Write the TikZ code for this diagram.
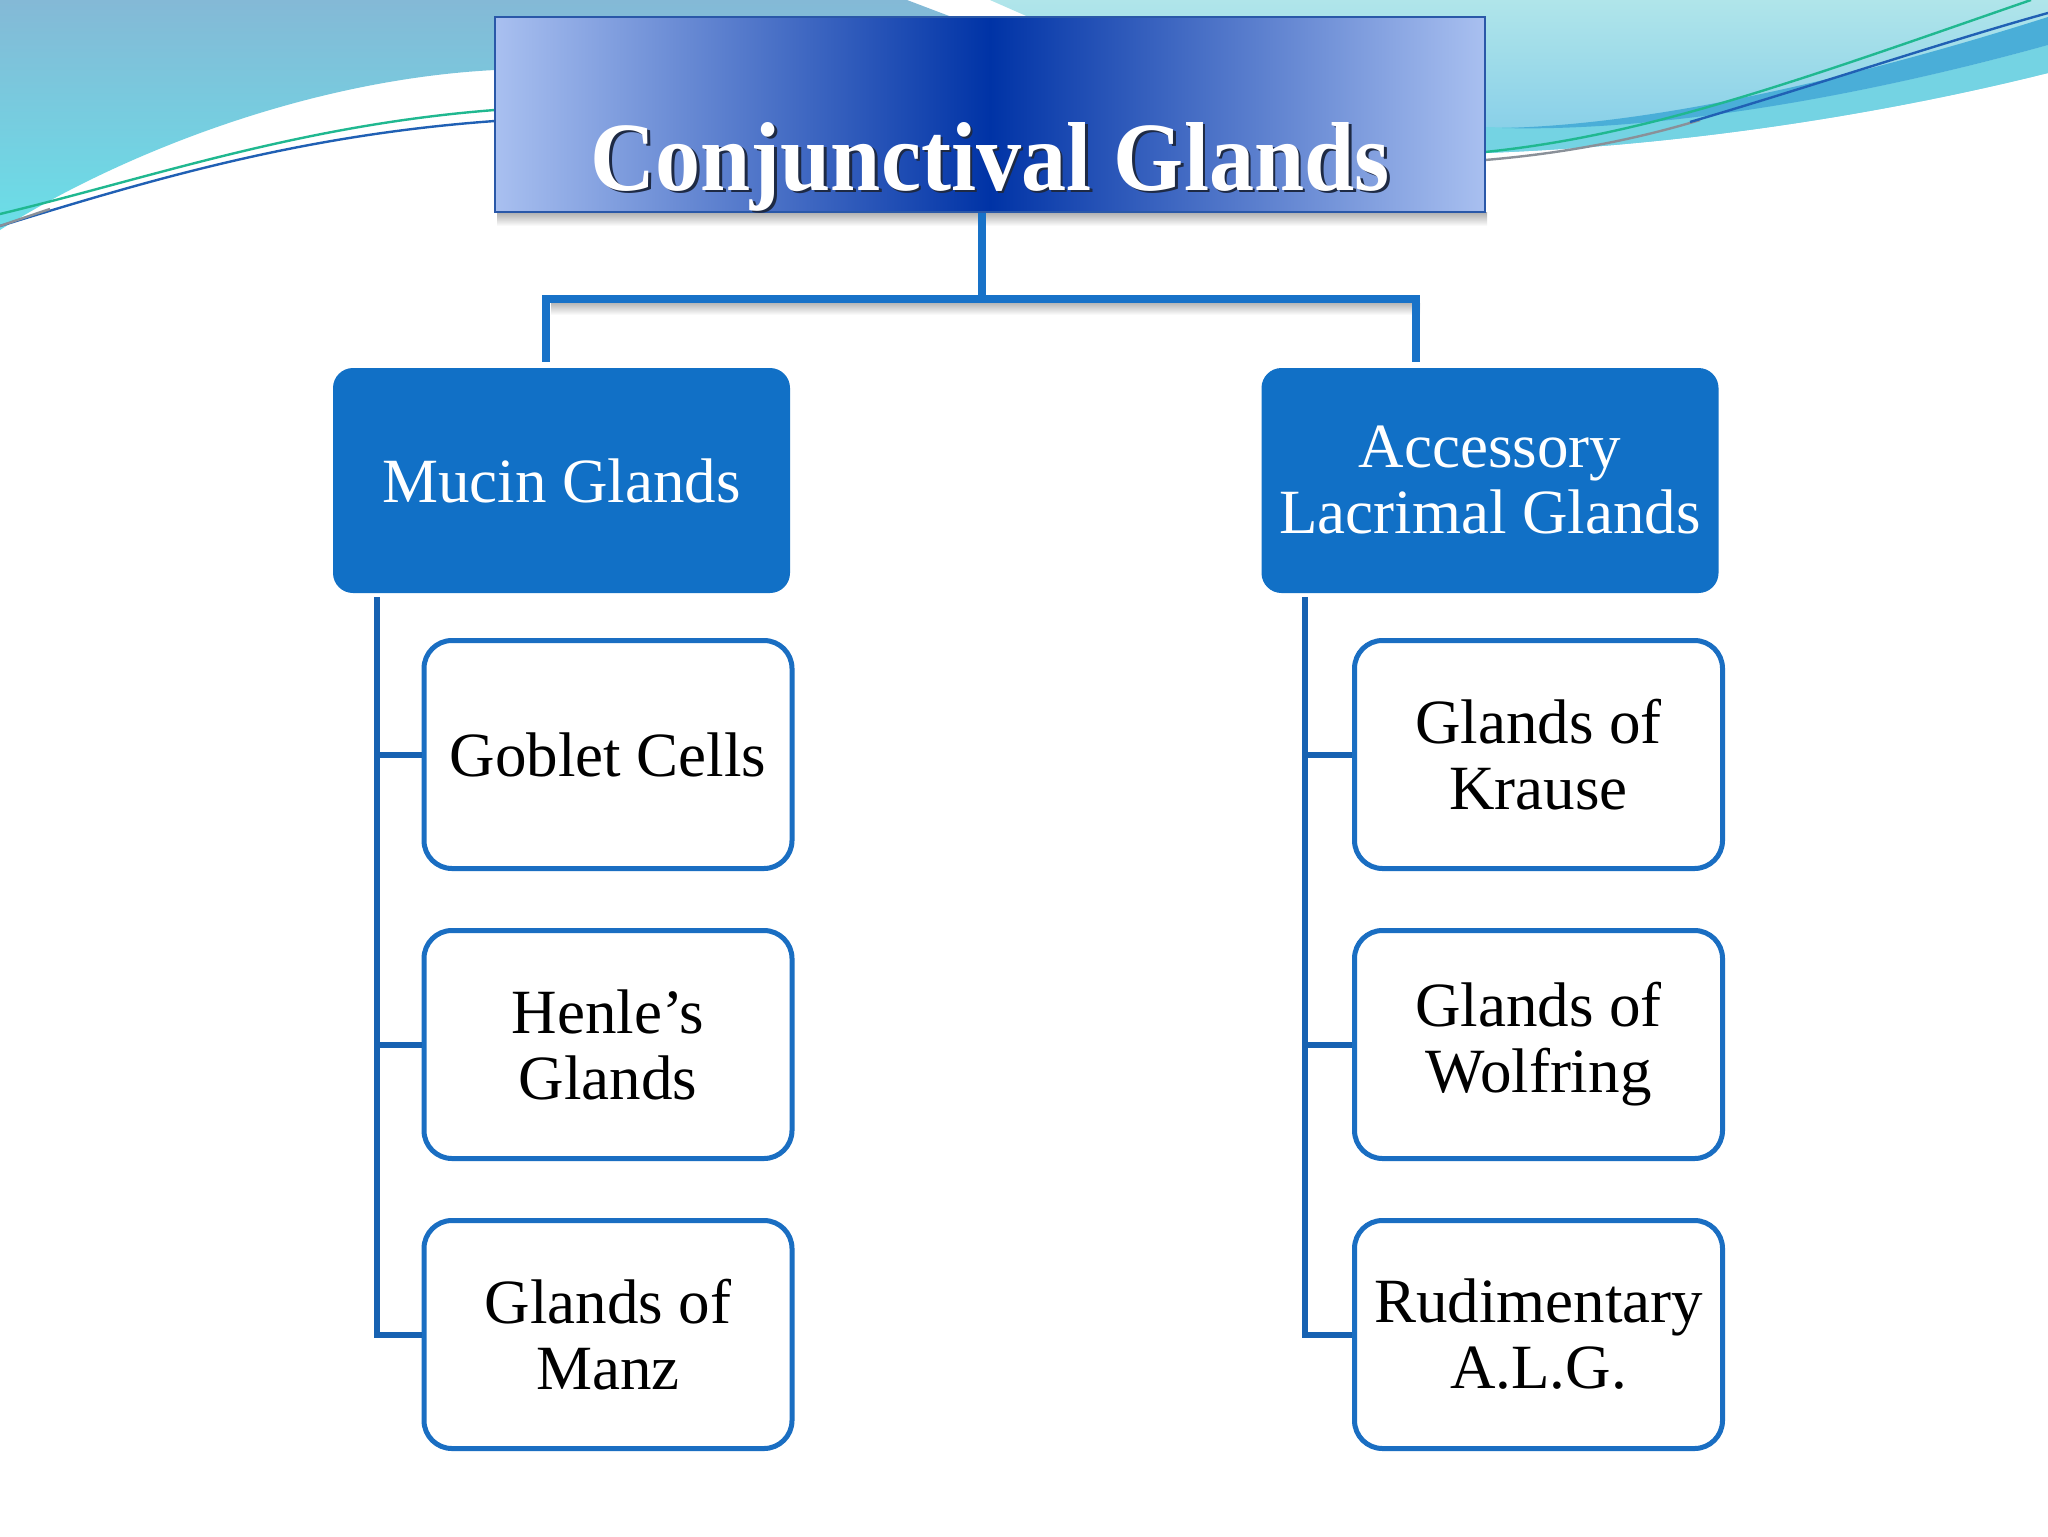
\documentclass[tikz,border=0pt]{standalone}
\usepackage{fontspec}
\setmainfont{Liberation Serif}
\usetikzlibrary{calc}
\definecolor{headblue}{HTML}{1170C6}
\definecolor{boxblue}{HTML}{1A6EC2}
\definecolor{lineblue}{HTML}{1762B2}
\definecolor{topline}{HTML}{1872C8}
\definecolor{tlight}{HTML}{A9C0F0}
\definecolor{tdark}{HTML}{0033A6}
\definecolor{tborder}{HTML}{2A58A8}
\definecolor{tshadow}{HTML}{1E2A44}
\definecolor{lctop}{HTML}{84B9D6}
\definecolor{lcbot}{HTML}{6ADFE8}
\definecolor{rctop}{HTML}{B0E5EA}
\definecolor{rcbot}{HTML}{82CCE8}
\definecolor{rband}{HTML}{4AAED8}
\definecolor{rbandlow}{HTML}{74D3E3}
\definecolor{lgreen}{HTML}{20B890}
\definecolor{lblue}{HTML}{2060B4}
\definecolor{lgray}{HTML}{8A9098}
\pgfdeclarehorizontalshading{titleshade}{100bp}{color(0bp)=(tlight); color(25bp)=(tlight); color(50bp)=(tdark); color(75bp)=(tlight); color(100bp)=(tlight)}
\newcommand\shadowtxt[1]{\makebox[0pt][l]{\kern1.5pt\raisebox{-1.5pt}{\textcolor{tshadow}{#1}}}#1}
\begin{document}
\begin{tikzpicture}[x=0.5pt,y=-0.5pt,
  titlebox/.style={shade, shading=titleshade, draw=tborder, line width=1.2pt,
    minimum width=495pt, minimum height=97.5pt, inner sep=0pt,
    text height=75.5pt, text depth=0pt, text=white,
    font=\fontsize{49}{55}\selectfont\bfseries},
  headbox/.style={fill=headblue, draw=none, rounded corners=10pt,
    minimum width=228.5pt, minimum height=112.5pt, inner sep=0pt,
    text=white, align=center, font=\fontsize{31.5}{33}\selectfont},
  childbox/.style={draw=boxblue, line width=2.5pt, fill=white, rounded corners=14pt,
    minimum width=184pt, minimum height=114pt, inner sep=0pt,
    text=black, align=center, font=\fontsize{31.5}{33}\selectfont},
  topconn/.style={draw=topline, line width=4pt, line join=miter},
  conn/.style={draw=lineblue, line width=3pt, line join=miter},
  thin/.style={line width=1.2pt}
]
\useasboundingbox (0,0) rectangle (2048,1536);
\fill[white] (0,0) rectangle (2048,1536);
% background swooshes
\shade[top color=lctop,bottom color=lcbot] (0,0) -- (907,0) -- (965,22) -- (965,60) -- (495,70) .. controls (300,80) and (110,160) .. (0,230) -- cycle;
\shade[top color=rctop,bottom color=rcbot] (990,0) -- (2048,0) -- (2048,73) .. controls (1900,110) and (1700,145) .. (1485,153) -- (1100,150) -- (1040,22) -- cycle;
\fill[rbandlow] (1485,127) .. controls (1650,132) and (1850,100) .. (2048,45) -- (2048,73) .. controls (1900,110) and (1700,145) .. (1485,153) -- cycle;
\fill[rband] (1502,128) .. controls (1650,125) and (1850,80) .. (2048,17) -- (2048,45) .. controls (1850,100) and (1650,132) .. (1502,128) -- cycle;
\draw[lgreen,thin] (0,214) .. controls (150,178) and (300,125) .. (495,110);
\draw[lblue,thin] (0,226) .. controls (150,180) and (300,135) .. (495,121);
\draw[lgray,thin] (0,226) .. controls (20,219) and (35,214) .. (50,209);
\draw[lgreen,thin] (1485,152) .. controls (1650,135) and (1800,80) .. (2031,0);
\draw[lgray,thin] (1485,160) .. controls (1580,152) and (1650,135) .. (1700,120);
\draw[lblue,thin] (1690,122) .. controls (1800,90) and (1950,40) .. (2048,13);
% shadows
\shade[top color=black!40,bottom color=white,opacity=0.8] (497,212) rectangle (1487,226);
\shade[top color=black!35,bottom color=white,opacity=0.8] (551,303) rectangle (1420,315);
% nodes
\node[titlebox] (title) at (990,114.5) {\scalebox{0.92}[1]{\shadowtxt{Conjunctival Glands}}};
\node[headbox] (mucin) at (561.5,480.5) {Mucin Glands};
\node[headbox] (acc) at (1490,480.5) {Accessory\\Lacrimal Glands};
\node[childbox] (goblet) at (608,754.5) {Goblet Cells};
\node[childbox] (henle) at (608,1044.5) {Henle’s\\Glands};
\node[childbox] (manz) at (608,1334.5) {Glands of\\Manz};
\node[childbox] (krause) at (1538.5,754.5) {Glands of\\Krause};
\node[childbox] (wolf) at (1538.5,1044.5) {Glands of\\Wolfring};
\node[childbox] (rud) at (1538.5,1334.5) {Rudimentary\\A.L.G.};
% connectors
\coordinate (j) at (982,299);
\coordinate (jl) at (546,299);
\coordinate (jr) at (1416,299);
\coordinate (lstem) at (377,600);
\coordinate (rstem) at (1305,600);
\draw[topconn] (title.south -| j) -- (j);
\draw[topconn, shorten <=3pt, shorten >=3pt] (mucin.north -| jl) -- (jl) -- (jr) -- (acc.north -| jr);
\draw[conn, shorten <=2pt] (mucin.south -| lstem) |- (manz.west);
\draw[conn] (goblet.west -| lstem) -- (goblet.west);
\draw[conn] (henle.west -| lstem) -- (henle.west);
\draw[conn, shorten <=2pt] (acc.south -| rstem) |- (rud.west);
\draw[conn] (krause.west -| rstem) -- (krause.west);
\draw[conn] (wolf.west -| rstem) -- (wolf.west);
\end{tikzpicture}
\end{document}
